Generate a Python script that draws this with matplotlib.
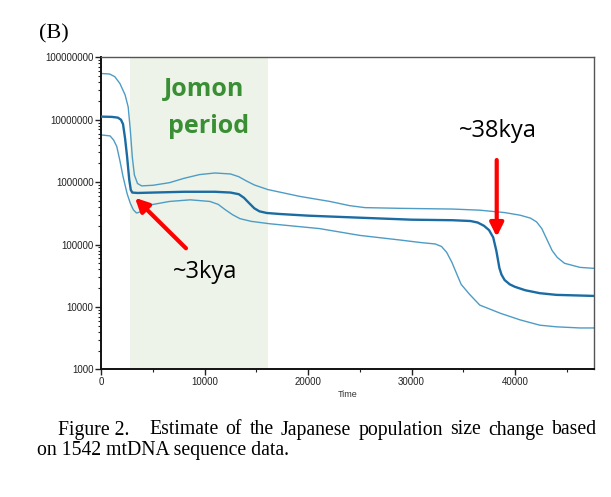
import matplotlib
matplotlib.use("Agg")
import matplotlib.pyplot as plt
import matplotlib.ticker as mticker
import numpy as np

# --- data ---
median_t = [0, 1000, 1600, 1900, 2100, 2300, 2500, 2700, 2850, 3000, 3500, 5000, 8000, 11000,
            12500, 13300, 13800, 14300, 14800, 15300, 16000, 17300, 20000, 25000, 30000, 34000,
            35700, 36400, 37000, 37500, 37900, 38200, 38500, 38700, 39000, 39500, 40000, 41000,
            42400, 44000, 47650]
median_n = [1.12e7, 1.11e7, 1.08e7, 1.0e7, 8.5e6, 5e6, 2.5e6, 1.1e6, 7.5e5, 6.8e5, 6.7e5, 6.8e5,
            7.0e5, 7.0e5, 6.8e5, 6.4e5, 5.6e5, 4.6e5, 3.8e5, 3.4e5, 3.2e5, 3.08e5, 2.9e5, 2.69e5,
            2.5e5, 2.45e5, 2.38e5, 2.25e5, 2.0e5, 1.7e5, 1.3e5, 8e4, 4.2e4, 3.3e4, 2.7e4, 2.3e4,
            2.1e4, 1.85e4, 1.66e4, 1.56e4, 1.5e4]

upper_t = [0, 800, 1300, 1800, 2300, 2600, 2800, 3000, 3200, 3500, 3900, 5000, 6600, 8000,
           9500, 11000, 12500, 13300, 14000, 14800, 16100, 19200, 22100, 24000, 25500, 28900,
           34000, 36600, 39000, 40500, 41500, 42100, 42600, 43100, 43600, 44100, 44800, 46300,
           47650]
upper_n = [5.5e7, 5.4e7, 4.9e7, 3.8e7, 2.5e7, 1.6e7, 7e6, 2.5e6, 1.3e6, 9.5e5, 8.7e5, 8.9e5,
           9.8e5, 1.15e6, 1.32e6, 1.4e6, 1.35e6, 1.22e6, 1.05e6, 9.0e5, 7.6e5, 5.9e5, 4.9e5,
           4.2e5, 3.9e5, 3.8e5, 3.7e5, 3.55e5, 3.25e5, 2.95e5, 2.65e5, 2.3e5, 1.8e5, 1.2e5,
           8e4, 6.2e4, 5.0e4, 4.3e4, 4.15e4]

lower_t = [0, 850, 1200, 1500, 1800, 2100, 2500, 2800, 3100, 3400, 3700, 4000, 4700, 6600,
           8600, 10500, 11300, 12000, 12700, 13400, 14500, 16300, 21100, 25000, 28900, 31000,
           32300, 32900, 33400, 33900, 34400, 34800, 35600, 36600, 38600, 40500, 42400, 44000,
           46300, 47650]
lower_n = [5.7e6, 5.5e6, 4.7e6, 3.7e6, 2.2e6, 1.23e6, 6.5e5, 4.6e5, 3.6e5, 3.2e5, 3.3e5, 3.6e5,
           4.3e5, 4.9e5, 5.2e5, 4.9e5, 4.4e5, 3.6e5, 3.0e5, 2.6e5, 2.35e5, 2.15e5, 1.8e5, 1.4e5,
           1.18e5, 1.07e5, 1.02e5, 9.3e4, 7.5e4, 5.2e4, 3.3e4, 2.3e4, 1.6e4, 1.07e4, 7.9e3,
           6.2e3, 5.1e3, 4.8e3, 4.6e3, 4.6e3]

jomon_start, jomon_end = 2800, 16100
y_ticks = [1000, 10000, 100000, 1000000, 10000000, 100000000]
x_ticks = [0, 10000, 20000, 30000, 40000]

fig = plt.figure(figsize=(6.11, 4.97), dpi=100)
ax = fig.add_axes([0.1658, 0.2569, 0.8064, 0.6278])

ax.axvspan(jomon_start, jomon_end, color="#edf3e8", lw=0, zorder=0)
ax.plot(upper_t, upper_n, color="#4e9cc6", lw=1.0, zorder=2)
ax.plot(lower_t, lower_n, color="#4e9cc6", lw=1.0, zorder=2)
ax.plot(median_t, median_n, color="#1b6ca3", lw=1.7, zorder=3)

ax.set_yscale("log")
ax.set_xlim(0, 47650)
ax.set_ylim(1000, 1e8)
ax.set_yticks(y_ticks)
ax.yaxis.set_major_formatter(mticker.FuncFormatter(lambda v, p: "%d" % round(v)))
ax.yaxis.set_minor_locator(mticker.LogLocator(base=10, subs=np.arange(2, 10)))
ax.yaxis.set_minor_formatter(mticker.NullFormatter())
ax.set_xticks(x_ticks)
ax.xaxis.set_minor_locator(mticker.MultipleLocator(5000))

ax.tick_params(axis="both", which="major", labelsize=7, length=4, width=1, colors="#222222",
               labelcolor="#222222", pad=1.5)
ax.tick_params(axis="both", which="minor", length=2.5, width=0.8, colors="#222222")
for lbl in ax.get_xticklabels() + ax.get_yticklabels():
    lbl.set_fontfamily("Liberation Sans")

for s in ["left", "bottom"]:
    ax.spines[s].set_linewidth(1.4)
    ax.spines[s].set_color("#111111")
for s in ["top", "right"]:
    ax.spines[s].set_linewidth(1.0)
    ax.spines[s].set_color("#555555")

ax.set_xlabel("Time", fontsize=6.5, family="Liberation Sans", color="#333333", labelpad=2)

# annotations
ax.text(9900, 3.1e7, "Jomon", color="#3a8f34", fontsize=18, fontweight="bold",
        family="Open Sans", ha="center", va="center")
ax.text(10400, 7.9e6, "period", color="#3a8f34", fontsize=18, fontweight="bold",
        family="Open Sans", ha="center", va="center")

ax.annotate("", xy=(3260, 5.6e5), xytext=(8190, 8.7e4),
            arrowprops=dict(arrowstyle="-|>,head_length=0.8,head_width=0.4", color="#ff0000", lw=3,
                            shrinkA=0, shrinkB=0))
ax.text(10000, 3.6e4, "~3kya", fontsize=17, family="Open Sans", ha="center", va="center", color="black")

ax.annotate("", xy=(38240, 1.33e5), xytext=(38240, 2.26e6),
            arrowprops=dict(arrowstyle="-|>,head_length=0.8,head_width=0.4", color="#ff0000", lw=3,
                            shrinkA=0, shrinkB=0))
ax.text(38300, 6.5e6, "~38kya", fontsize=17, family="Open Sans", ha="center", va="center", color="black")

fig.text(39 / 611, 1 - 34 / 497, "(B)", fontsize=16, family="Liberation Serif", ha="left", va="center")

# caption, first line justified between x=58 and x=597 px
cap_fs = 14.2
renderer = fig.canvas.get_renderer()
W = 611.0
first = fig.text(58 / W, 1 - 430 / 497, "Figure 2.", fontsize=cap_fs, family="Liberation Serif",
                 ha="left", va="center")
words = "Estimate of the Japanese population size change based".split()
objs = [fig.text(0, 1 - 430 / 497, w, fontsize=cap_fs, family="Liberation Serif", ha="left", va="center")
        for w in words]
widths = [o.get_window_extent(renderer).width for o in objs]
start, end = 149.0, 597.0
gap = (end - start - sum(widths)) / (len(words) - 1)
x = start
for o, w in zip(objs, widths):
    o.set_x(x / W)
    x += w + gap
fig.text(37 / W, 1 - 451 / 497, "on 1542 mtDNA sequence data.",
         fontsize=cap_fs, family="Liberation Serif", ha="left", va="center")

fig.savefig("out.png", dpi=100)
